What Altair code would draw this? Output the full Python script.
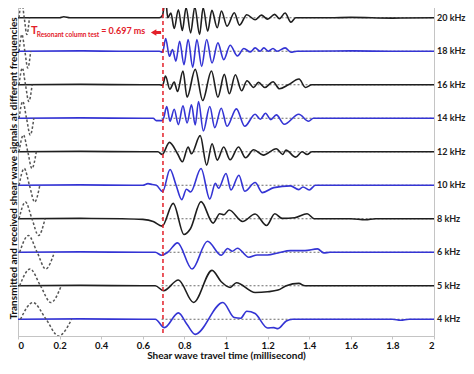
import altair as alt
import pandas as pd

# ---------------- data ----------------
freq_labels = ["20 kHz", "18 kHz", "16 kHz", "14 kHz", "12 kHz",
               "10 kHz", "8 kHz", "6 kHz", "5 kHz", "4 kHz"]

# received signals: time (ms) and amplitude (in units of row spacing)
rx20_t = [0, 0.2, 0.22, 0.25, 0.4, 0.6, 0.68, 0.695, 0.709, 0.72, 0.735, 0.751, 0.771, 0.79, 0.808, 0.83, 0.85, 0.873, 0.89, 0.912, 0.932, 0.958, 0.978, 1.005, 1.04, 1.065, 1.1, 1.14, 1.17, 1.2, 1.234, 1.257, 1.284, 1.312, 1.335, 1.5, 1.6, 1.8, 2.0]
rx20_a = [0, 0, 0.03, 0, 0, 0, 0, 0.08, 0.6, 0.0, 0.14, -0.32, 0.24, -0.38, 0.3, -0.45, 0.32, -0.5, 0.3, -0.4, 0.22, -0.3, 0.2, -0.25, 0.15, -0.22, 0.09, -0.06, 0.08, -0.04, 0.1, -0.03, 0.14, -0.13, 0, 0, 0.01, -0.01, 0]

rx18_t = [0, 0.3, 0.5, 0.68, 0.695, 0.71, 0.728, 0.743, 0.759, 0.777, 0.798, 0.818, 0.84, 0.86, 0.883, 0.907, 0.933, 0.961, 0.989, 1.02, 1.055, 1.086, 1.117, 1.14, 1.164, 1.182, 1.203, 1.226, 1.245, 1.284, 1.312, 1.34, 1.6, 1.8, 2.0]
rx18_a = [0, 0.01, 0, 0, -0.03, 0.38, -0.15, 0.05, -0.3, 0.3, -0.4, 0.35, -0.48, 0.35, -0.45, 0.35, -0.35, 0.25, -0.25, 0.18, -0.14, 0.08, -0.02, 0.1, 0.0, 0.1, 0.0, 0.08, 0.0, 0.1, -0.03, 0, 0.01, 0, 0]

rx16_t = [0, 0.3, 0.6, 0.68, 0.695, 0.709, 0.73, 0.751, 0.767, 0.793, 0.813, 0.852, 0.888, 0.93, 0.961, 0.992, 1.016, 1.045, 1.075, 1.101, 1.133, 1.156, 1.187, 1.226, 1.257, 1.3, 1.351, 1.382, 1.413, 1.6, 2.0]
rx16_a = [0, 0.01, 0, 0, -0.02, 0.26, -0.13, 0.08, -0.2, 0.41, -0.37, 0.46, -0.47, 0.41, -0.37, 0.31, -0.27, 0.3, -0.18, 0.12, -0.08, 0.07, -0.08, 0.09, -0.12, 0.0, 0.17, -0.08, 0, 0, 0]

rx14_t = [0, 0.3, 0.6, 0.65, 0.665, 0.69, 0.7, 0.715, 0.731, 0.751, 0.771, 0.793, 0.813, 0.834, 0.852, 0.868, 0.891, 0.922, 0.946, 0.977, 1.005, 1.05, 1.09, 1.14, 1.165, 1.19, 1.215, 1.242, 1.28, 1.35, 1.397, 1.42, 1.6, 2.0]
rx14_a = [0, 0.01, 0, 0, -0.07, -0.07, 0.0, 0.35, -0.09, 0.27, -0.19, 0.37, -0.14, 0.4, -0.2, 0.5, -0.38, 0.35, -0.28, 0.3, -0.24, 0.28, -0.24, 0.12, -0.03, 0.15, -0.04, 0.1, -0.18, 0.12, -0.09, 0, 0, 0]

rx12_t = [0, 0.3, 0.6, 0.673, 0.693, 0.728, 0.767, 0.79, 0.818, 0.834, 0.876, 0.907, 0.933, 0.958, 0.989, 1.02, 1.06, 1.094, 1.133, 1.179, 1.242, 1.273, 1.288, 1.335, 1.366, 1.39, 1.413, 1.6, 2.0]
rx12_a = [0, 0.01, 0, 0, -0.08, 0.28, -0.06, -0.3, 0.14, -0.06, 0.48, -0.4, 0.24, -0.25, 0.14, -0.24, 0.14, -0.18, 0.06, -0.1, 0.09, -0.08, 0.05, -0.16, 0.0, -0.08, 0, 0, 0]

rx10_t = [0, 0.3, 0.55, 0.6, 0.625, 0.645, 0.665, 0.695, 0.731, 0.76, 0.787, 0.81, 0.83, 0.88, 0.922, 0.949, 0.964, 1.0, 1.024, 1.062, 1.09, 1.14, 1.175, 1.23, 1.31, 1.35, 1.37, 1.4, 1.43, 1.6, 2.0]
rx10_a = [0, 0.01, 0, 0, 0.05, 0.02, 0.0, -0.19, 0.47, 0.0, -0.43, -0.12, -0.2, 0.5, -0.41, 0.06, -0.09, 0.35, -0.14, 0.3, -0.18, 0.08, -0.22, -0.07, -0.02, -0.13, -0.05, -0.14, 0, 0, 0]

rx8_t = [0, 0.3, 0.5, 0.6, 0.65, 0.693, 0.746, 0.798, 0.829, 0.88, 0.938, 0.97, 0.99, 1.015, 1.08, 1.14, 1.195, 1.235, 1.27, 1.33, 1.39, 1.425, 1.6, 1.67, 1.72, 2.0]
rx8_a = [0, 0.01, 0, -0.02, -0.08, -0.22, 0.46, -0.47, -0.3, 0.51, -0.13, 0.15, 0.12, 0.26, -0.08, 0.14, -0.2, 0.15, 0.01, 0.03, 0.15, 0, 0, -0.03, 0, 0]

rx6_t = [0, 0.3, 0.6, 0.66, 0.69, 0.72, 0.767, 0.837, 0.911, 0.977, 1.008, 1.03, 1.055, 1.11, 1.15, 1.2, 1.25, 1.31, 1.38, 1.44, 1.47, 1.5, 2.0]
rx6_a = [0, 0.01, 0, 0, -0.09, 0.0, 0.28, -0.5, 0.33, -0.09, 0.11, 0.03, 0.12, -0.15, -0.08, -0.08, -0.02, 0.05, 0.05, 0.1, -0.02, 0, 0]

rx5_t = [0, 0.3, 0.6, 0.66, 0.7, 0.771, 0.844, 0.933, 0.977, 1.02, 1.05, 1.14, 1.2, 1.25, 1.29, 1.35, 1.38, 1.6, 2.0]
rx5_a = [0, 0.01, 0, 0, -0.15, 0.17, -0.5, 0.46, 0.12, -0.05, 0.09, -0.2, -0.18, -0.13, 0.0, 0.07, 0, 0, 0]

rx4_t = [0, 0.3, 0.6, 0.66, 0.704, 0.771, 0.813, 0.852, 0.985, 1.04, 1.07, 1.1, 1.14, 1.2, 1.23, 1.25, 1.29, 1.32, 1.6, 1.8, 1.84, 1.88, 2.0]
rx4_a = [0, 0.01, 0, 0, -0.25, 0.19, -0.16, -0.45, 0.5, 0.05, 0.03, 0.24, 0.17, -0.26, -0.25, -0.28, -0.05, 0, 0, 0, -0.03, 0, 0]

received = [(rx20_t, rx20_a), (rx18_t, rx18_a), (rx16_t, rx16_a), (rx14_t, rx14_a),
            (rx12_t, rx12_a), (rx10_t, rx10_a), (rx8_t, rx8_a), (rx6_t, rx6_a),
            (rx5_t, rx5_a), (rx4_t, rx4_a)]

# transmitted single-cycle pulses: start, peak, zero, trough, end (ms)
tx_times = [
    [0.005, 0.0175, 0.03, 0.0425, 0.055],
    [0.005, 0.019, 0.033, 0.047, 0.061],
    [0.005, 0.021, 0.036, 0.052, 0.068],
    [0.005, 0.023, 0.041, 0.059, 0.076],
    [0.005, 0.026, 0.047, 0.067, 0.088],
    [0.005, 0.03, 0.055, 0.08, 0.105],
    [0.005, 0.036, 0.067, 0.099, 0.13],
    [0.008, 0.05, 0.092, 0.133, 0.175],
    [0.008, 0.058, 0.108, 0.158, 0.208],
    [0.012, 0.072, 0.135, 0.195, 0.258],
]
tx_amp = [0, 0.5, 0, -0.5, 0]

t_resonant = [0.697]
x_ticks = [0, 0.2, 0.4, 0.6, 0.8, 1, 1.2, 1.4, 1.6, 1.8, 2]

# ---------------- assemble tables ----------------
n = len(freq_labels)
rx_rows, tx_rows, base_rows = [], [], []
for i, lab in enumerate(freq_labels):
    off = n - 1 - i
    t, a = received[i]
    assert len(t) == len(a), lab
    for tt, aa in zip(t, a):
        rx_rows.append({"freq": lab, "t": tt, "y": off + aa})
    for tt, aa in zip(tx_times[i], tx_amp):
        tx_rows.append({"freq": lab, "t": tt, "y": off + aa})
    base_rows.append({"freq": lab, "t0": 0.69, "t1": 2.0, "y": off})

rx_df = pd.DataFrame(rx_rows)
tx_df = pd.DataFrame(tx_rows)
base_df = pd.DataFrame(base_rows)

line_colors = ["#1e1e1e", "#3434d4"] * 5
RED = "#e3202a"

W, H = 416, 336

X = alt.Scale(domain=[0, 2], nice=False, zero=False)
Y = alt.Scale(domain=[-0.5, 9.53], nice=False, zero=False)

x_enc = alt.X("t:Q", scale=X, axis=alt.Axis(
    values=x_ticks, format="~g", title="Shear wave travel time (millisecond)",
    grid=False, tickSize=3, labelPadding=1, titlePadding=1))
y_enc = alt.Y("y:Q", scale=Y, axis=alt.Axis(
    title="Transmitted and received shear wave signals at different frequencies",
    labels=False, ticks=False, grid=False, titlePadding=0))

baselines = alt.Chart(base_df).mark_rule(
    color="#6a6a6a", strokeWidth=1, strokeDash=[2, 2]
).encode(x=alt.X("t0:Q", scale=X), x2="t1:Q", y=alt.Y("y:Q", scale=Y))

rx_lines = alt.Chart(rx_df).mark_line(
    strokeWidth=1.6, interpolate="monotone", clip=True
).encode(
    x=x_enc, y=y_enc,
    color=alt.Color("freq:N", scale=alt.Scale(domain=freq_labels, range=line_colors), legend=None),
)

tx_lines = alt.Chart(tx_df).mark_line(
    strokeWidth=1.5, interpolate="monotone", strokeDash=[2.5, 2], color="#555555", clip=True
).encode(x=alt.X("t:Q", scale=X), y=alt.Y("y:Q", scale=Y), detail="freq:N")

red_line = alt.Chart(pd.DataFrame({"t": t_resonant})).mark_rule(
    color=RED, strokeWidth=1.5, strokeDash=[4, 3]
).encode(x=alt.X("t:Q", scale=X))

ann_y = 8.56
ann_T = alt.Chart(pd.DataFrame({"t": [0.063], "y": [ann_y + 0.03], "s": ["T"]})).mark_text(
    align="left", baseline="middle", fontSize=11, fontWeight="bold", color=RED
).encode(x=alt.X("t:Q", scale=X), y=alt.Y("y:Q", scale=Y), text="s:N")
ann_sub = alt.Chart(pd.DataFrame({"t": [0.09], "y": [ann_y - 0.08], "s": ["Resonant column test"]})).mark_text(
    align="left", baseline="middle", fontSize=6.5, fontWeight="bold", color=RED
).encode(x=alt.X("t:Q", scale=X), y=alt.Y("y:Q", scale=Y), text="s:N")
ann_val = alt.Chart(pd.DataFrame({"t": [0.4], "y": [ann_y + 0.03], "s": ["= 0.697 ms"]})).mark_text(
    align="left", baseline="middle", fontSize=9, fontWeight="bold", color=RED
).encode(x=alt.X("t:Q", scale=X), y=alt.Y("y:Q", scale=Y), text="s:N")

arrow_df = pd.DataFrame({"t0": [0.652], "t1": [0.688], "y": [ann_y]})
arrow_shaft = alt.Chart(arrow_df).mark_rule(color=RED, strokeWidth=3).encode(
    x=alt.X("t0:Q", scale=X), x2="t1:Q", y=alt.Y("y:Q", scale=Y))
arrow_head = alt.Chart(arrow_df).mark_point(
    shape="triangle-left", filled=True, size=40, color=RED, opacity=1
).encode(x=alt.X("t0:Q", scale=X), y=alt.Y("y:Q", scale=Y))

right_labels = alt.Chart(base_df).mark_text(
    align="left", baseline="middle", fontSize=9, fontWeight="bold", color="#222222"
).encode(x=alt.value(W + 3), y=alt.Y("y:Q", scale=Y), text="freq:N")

chart = alt.layer(
    baselines, rx_lines, tx_lines, red_line,
    ann_T, ann_sub, ann_val, arrow_shaft, arrow_head, right_labels
).properties(
    width=W, height=H,
    padding={"left": 10, "top": -8, "right": 32, "bottom": 25},
    autosize=alt.AutoSizeParams(type="none"),
).configure(font="Lato").configure_view(
    stroke="#c4c4c4", strokeWidth=1
).configure_axis(
    domainColor="#c4c4c4", tickColor="#c4c4c4",
    labelFont="Lato", labelFontSize=9.5, labelFontWeight="bold", labelColor="#111111",
    titleFont="Lato", titleFontSize=10, titleFontWeight="bold", titleColor="#111111",
)

chart.save("out.html", embed_options={"renderer": "svg", "actions": False})
